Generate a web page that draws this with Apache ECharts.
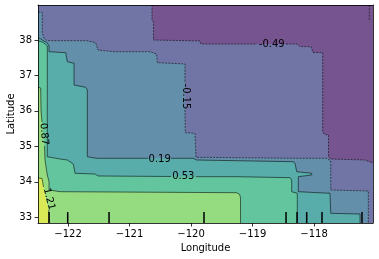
<!DOCTYPE html>
<html><head><meta charset="utf-8">
<script src="https://cdn.jsdelivr.net/npm/echarts@6/dist/echarts.min.js"></script>
<style>html,body{margin:0;padding:0;background:#fff}#c{width:379px;height:259px}</style>
</head><body><div id="c"></div>
<script>
// ---- data ----
const lonRange = [-122.488, -117.041];
const latRange = [32.838, 38.987];
const xTicks = [-122, -121, -120, -119, -118];
const yTicks = [33, 34, 35, 36, 37, 38];
const levels = [-0.83, -0.49, -0.15, 0.19, 0.53, 0.87, 1.21, 1.55];
// longitude deciles (rug)
const decilesLon = [-122.309, -122.005, -121.333, -119.789, -118.455, -118.276, -118.119, -117.870, -117.220];

// contour lines [lon, lat]; null = break left for inline label
const contourM083 = [[-117.101, 38.987], [-117.101, 38.564]];
const contourM049 = [
  [-120.634, 38.987], [-120.634, 38.564], [-120.610, 38.508], [-120.610, 38.000], [-119.854, 37.972],
  [-119.837, 37.887], [-118.927, 37.887], null,
  [-118.455, 37.887], [-118.276, 37.887], [-118.228, 37.817], [-118.049, 37.811], [-118.016, 37.647],
  [-117.859, 37.642], [-117.859, 35.413], [-117.837, 35.348], [-117.764, 35.320], [-117.764, 34.700],
  [-117.724, 34.643], [-117.171, 34.615], [-117.041, 34.530]];
const contourM015 = [
  [-122.488, 38.798], [-122.418, 38.770], [-122.418, 38.197], [-122.390, 38.048], [-122.341, 37.980],
  [-121.691, 37.980], [-121.550, 37.924], [-121.512, 37.718], [-121.252, 37.670], [-120.667, 37.670],
  [-120.558, 37.605], [-120.548, 37.360], [-120.098, 37.323], [-120.098, 36.787], null,
  [-120.098, 36.025], [-120.093, 35.385], [-119.935, 35.368], [-119.919, 34.691], [-118.228, 34.663],
  [-117.793, 34.663], [-117.728, 34.587], [-117.728, 33.769], [-117.117, 33.740], [-117.117, 32.838]];
const contour019 = [
  [-122.488, 38.056], [-122.455, 38.042], [-122.407, 37.986], [-122.341, 37.929], [-122.309, 37.831],
  [-122.309, 37.670], [-122.037, 37.642], [-122.011, 37.388], [-121.902, 37.343], [-121.902, 36.731],
  [-121.712, 36.666], [-121.686, 36.590], [-121.686, 34.708], [-121.533, 34.663], [-120.699, 34.663], null,
  [-120.325, 34.663], [-119.967, 34.663], [-119.907, 34.615], [-118.341, 34.567], [-118.309, 34.522],
  [-118.281, 34.285], [-118.037, 34.240], [-118.037, 34.192], [-118.255, 34.144], [-118.255, 33.721],
  [-117.740, 33.676], [-117.728, 33.111], [-117.252, 33.092], [-117.252, 32.838]];
const contour053 = [
  [-122.488, 37.972], [-122.439, 37.958], [-122.390, 37.915], [-122.337, 37.831], [-122.337, 34.708],
  [-122.130, 34.643], [-122.011, 34.615], [-121.914, 34.502], [-121.886, 34.240], [-121.561, 34.220],
  [-121.507, 34.164], [-120.325, 34.150], null,
  [-119.919, 34.144], [-119.257, 34.144], [-118.390, 34.116], [-118.363, 34.051], [-118.363, 33.721],
  [-118.272, 33.676], [-118.272, 32.838]];
const contour087 = [
  [-122.488, 36.666], [-122.444, 36.646], [-122.439, 36.025], [-122.423, 35.687], null,
  [-122.382, 35.010], [-122.374, 34.615], [-122.337, 34.192], [-122.309, 34.003], [-122.309, 33.769],
  [-122.130, 33.721], [-121.252, 33.712], [-119.257, 33.693], [-119.208, 33.642], [-119.195, 33.543],
  [-119.195, 32.838]];
const contour121 = [
  [-122.488, 34.107], [-122.423, 34.093], [-122.398, 33.853], null,
  [-122.317, 33.205], [-122.309, 33.120], [-122.309, 32.838]];

const labelText = ['-0.49', '-0.15', '0.19', '0.53', '0.87', '1.21'];
const labelPos = [[-118.688, 37.867], [-120.081, 36.406], [-120.509, 34.643], [-120.125, 34.164], [-122.390, 35.348], [-122.309, 33.515]];

// ---- styles ----
const labelAngles = [0, -90, 0, 0, -85, -76];
// viridis at band mid-points, alpha 0.75 over white
const bandColors = ['#76548f', '#7075a6', '#648faa', '#58aca9', '#62c59e', '#95db7f', '#dae956'];
const FONT = 'DejaVu Sans';

const filledLines = [contourM049, contourM015, contour019, contour053, contour087, contour121];
const allLines = [
  {pts: contourM083, level: levels[0]},
  {pts: contourM049, level: levels[1]},
  {pts: contourM015, level: levels[2]},
  {pts: contour019, level: levels[3]},
  {pts: contour053, level: levels[4]},
  {pts: contour087, level: levels[5]},
  {pts: contour121, level: levels[6]}
];

function polyFor(i) {
  const L0 = lonRange[0], L1 = lonRange[1], B0 = latRange[0], B1 = latRange[1];
  if (i === 0) return [[L0, B0], [L1, B0], [L1, B1], [L0, B1]];
  const pts = filledLines[i - 1].filter(p => p);
  if (i === 1) return pts.concat([[L1, B0], [L0, B0], [L0, B1]]);
  return pts.concat([[L0, B0]]);
}

const segments = [];
allLines.forEach(c => {
  let cur = [];
  c.pts.forEach(p => {
    if (p === null) { if (cur.length > 1) segments.push({pts: cur, level: c.level}); cur = []; }
    else cur.push(p);
  });
  if (cur.length > 1) segments.push({pts: cur, level: c.level});
});

const chart = echarts.init(document.getElementById('c'), null, {renderer: 'canvas'});
const fmt = v => String(v).replace('-', '\u2212');
const axisLineStyle = {color: '#000', width: 0.8};

chart.setOption({
  animation: false,
  backgroundColor: '#fff',
  grid: {left: 38, right: 6, top: 5, bottom: 36, containLabel: false, outerBoundsMode: 'none'},
  xAxis: [{
    type: 'value', min: lonRange[0], max: lonRange[1], position: 'bottom',
    name: 'Longitude', nameLocation: 'middle', nameGap: 20, nameMoveOverlap: false,
    nameTextStyle: {fontSize: 10, color: '#000', fontFamily: FONT},
    axisLine: {show: true, onZero: false, lineStyle: axisLineStyle},
    axisTick: {show: true, customValues: xTicks, length: 3.5, lineStyle: axisLineStyle},
    axisLabel: {customValues: xTicks, fontSize: 10, color: '#000', fontFamily: FONT, margin: 6, formatter: fmt},
    splitLine: {show: false}, z: 10
  }, {
    type: 'value', min: lonRange[0], max: lonRange[1], position: 'top',
    axisLine: {show: true, onZero: false, lineStyle: axisLineStyle},
    axisTick: {show: false}, axisLabel: {show: false}, splitLine: {show: false}, z: 10
  }],
  yAxis: [{
    type: 'value', min: latRange[0], max: latRange[1], position: 'left',
    name: 'Latitude', nameLocation: 'middle', nameGap: 22, nameMoveOverlap: false,
    nameTextStyle: {fontSize: 10, color: '#000', fontFamily: FONT},
    axisLine: {show: true, onZero: false, lineStyle: axisLineStyle},
    axisTick: {show: true, customValues: yTicks, length: 3.5, lineStyle: axisLineStyle},
    axisLabel: {customValues: yTicks, fontSize: 10, color: '#000', fontFamily: FONT, margin: 6},
    splitLine: {show: false}, z: 10
  }, {
    type: 'value', min: latRange[0], max: latRange[1], position: 'right',
    axisLine: {show: true, onZero: false, lineStyle: axisLineStyle},
    axisTick: {show: false}, axisLabel: {show: false}, splitLine: {show: false}, z: 10
  }],
  series: [{
    type: 'custom', name: 'fill', coordinateSystem: 'cartesian2d', clip: true, silent: true, z: 1,
    data: bandColors.map((c, i) => [lonRange[0], latRange[0], i]),
    encode: {x: 0, y: 1},
    renderItem: (params, api) => {
      const i = params.dataIndex;
      const pts = polyFor(i).map(p => api.coord(p));
      return {type: 'polygon', shape: {points: pts}, style: {fill: bandColors[i], stroke: null}};
    }
  }, {
    type: 'custom', name: 'lines', coordinateSystem: 'cartesian2d', clip: true, silent: true, z: 2,
    data: segments.map((s, i) => [s.pts[0][0], s.pts[0][1], i]),
    encode: {x: 0, y: 1},
    renderItem: (params, api) => {
      const s = segments[params.dataIndex];
      return {
        type: 'polyline', shape: {points: s.pts.map(p => api.coord(p))},
        style: {stroke: '#000', lineWidth: 0.6, fill: null, lineDash: s.level < 0 ? [2, 1.2] : null, opacity: 0.9}
      };
    }
  }, {
    type: 'custom', name: 'labels', coordinateSystem: 'cartesian2d', silent: true, z: 3,
    data: labelPos.map((p, i) => [p[0], p[1], i]),
    encode: {x: 0, y: 1},
    renderItem: (params, api) => {
      const i = params.dataIndex;
      const c = api.coord(labelPos[i]);
      return {
        type: 'text', x: c[0], y: c[1], rotation: labelAngles[i] * Math.PI / 180,
        style: {text: labelText[i], fill: '#000', fontSize: 10, fontFamily: FONT, align: 'center', verticalAlign: 'middle'}
      };
    }
  }, {
    type: 'custom', name: 'rug', coordinateSystem: 'cartesian2d', silent: true, z: 4,
    data: decilesLon.map(v => [v, latRange[0]]),
    encode: {x: 0, y: 1},
    renderItem: (params, api) => {
      const p = api.coord([api.value(0), latRange[0]]);
      const h = params.coordSys.height * 0.05;
      return {type: 'line', shape: {x1: p[0], y1: p[1], x2: p[0], y2: p[1] - h}, style: {stroke: '#000', lineWidth: 1.5}};
    }
  }]
});
</script>
</body></html>
